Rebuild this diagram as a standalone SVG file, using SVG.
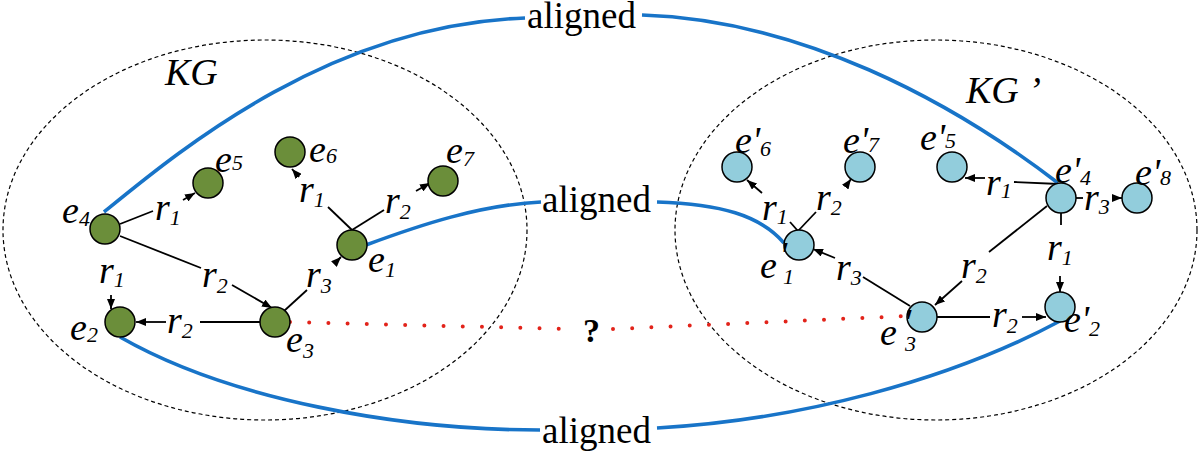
<svg xmlns="http://www.w3.org/2000/svg" width="1200" height="454" viewBox="0 0 1200 454">
<defs>
<style>
.kg{fill:none;stroke:#000;stroke-width:1.2;stroke-dasharray:4 3}
.g{fill:#6b8e3a;stroke:#000;stroke-width:1.5}
.b{fill:#92cddc;stroke:#000;stroke-width:1.5}
.ln{fill:none;stroke:#000;stroke-width:1.8}
.ar{fill:none;stroke:#000;stroke-width:1.8;marker-end:url(#ah)}
.al{fill:none;stroke:#1874c8;stroke-width:3.6}
.dot{fill:none;stroke:#e2231a;stroke-width:4;stroke-linecap:round;stroke-dasharray:0 19.2}
.s{font-size:22px}
</style>
<marker id="ah" viewBox="0 0 10 8" refX="10" refY="4" markerWidth="10" markerHeight="8" markerUnits="userSpaceOnUse" orient="auto">
<path d="M0,0 L10,4 L0,8 z" fill="#000"/>
</marker>
</defs>
<rect width="1200" height="454" fill="#fff"/>

<g id="kg-left">
<ellipse class="kg" cx="265" cy="230" rx="262" ry="190"/>
<text style="font-family:'Liberation Serif',serif;font-style:italic;font-size:38px" x="165" y="85">KG</text>
</g>
<g id="kg-right">
<ellipse class="kg" cx="936" cy="230" rx="261" ry="190"/>
<text style="font-family:'Liberation Serif',serif;font-style:italic;font-size:38px" x="966" y="103">KG ’</text>
</g>

<g id="connectors">
<path class="al" d="M104,212 C180,150 330,25 525,18"/>
<path class="al" d="M642,15 C800,20 950,100 1058,183"/>
<path class="al" d="M366,245 C420,225 480,205 541,202"/>
<path class="al" d="M657,202 C720,204 760,215 784,243"/>
<path class="al" d="M120,337 C230,400 400,430 540,430"/>
<path class="al" d="M657,428 C800,420 950,380 1060,321"/>
<text style="font-family:'Liberation Serif',serif;font-size:37px" x="527" y="28">aligned</text>
<text style="font-family:'Liberation Serif',serif;font-size:37px" x="542" y="212">aligned</text>
<text style="font-family:'Liberation Serif',serif;font-size:37px" x="542" y="443">aligned</text>
<path class="dot" d="M290,322 L566,329"/>
<path class="dot" d="M613,329 L908,316"/>
<text style="font-family:'Liberation Serif',serif;font-size:34px;font-weight:bold" x="583" y="342">?</text>

<path class="ln" d="M120,224 L153,211"/>
<path class="ar" d="M183,200 L195,193"/>
<text style="font-family:'Liberation Serif',serif;font-style:italic;font-size:38px" x="155" y="220">r<tspan class="s" dy="5">1</tspan></text>

<path class="ln" d="M120,236 L201,268"/>
<path class="ar" d="M232,285 L272,308"/>
<text style="font-family:'Liberation Serif',serif;font-style:italic;font-size:38px" x="202" y="287">r<tspan class="s" dy="6">2</tspan></text>

<path class="ln" d="M260,322 L200,322"/>
<path class="ar" d="M166,322 L136,322"/>
<text style="font-family:'Liberation Serif',serif;font-style:italic;font-size:38px" x="167" y="333">r<tspan class="s" dy="5">2</tspan></text>

<path class="ar" d="M111,295 L111,309"/>
<text style="font-family:'Liberation Serif',serif;font-style:italic;font-size:38px" x="99" y="283">r<tspan class="s" dy="4">1</tspan></text>

<path class="ln" d="M352,230 L328,207"/>
<path class="ar" d="M299,177 L292,169"/>
<text style="font-family:'Liberation Serif',serif;font-style:italic;font-size:38px" x="299" y="202">r<tspan class="s" dy="5">1</tspan></text>

<path class="ln" d="M352,230 L384,210"/>
<path class="ar" d="M416,191 L430,183"/>
<text style="font-family:'Liberation Serif',serif;font-style:italic;font-size:38px" x="385" y="213">r<tspan class="s" dy="6">2</tspan></text>

<path class="ln" d="M284,311 L307,290"/>
<path class="ar" d="M335,263 L341,257"/>
<text style="font-family:'Liberation Serif',serif;font-style:italic;font-size:38px" x="306" y="287">r<tspan class="s" dy="6">3</tspan></text>

<path class="ln" d="M798,231 L790,222"/>
<path class="ar" d="M762,193 L747,180"/>
<text style="font-family:'Liberation Serif',serif;font-style:italic;font-size:38px" x="762" y="220">r<tspan class="s" dy="4">1</tspan></text>

<path class="ln" d="M798,231 L816,212"/>
<path class="ar" d="M846,186 L851,179"/>
<text style="font-family:'Liberation Serif',serif;font-style:italic;font-size:38px" x="816" y="210">r<tspan class="s" dy="5">2</tspan></text>

<path class="ln" d="M910,306 L863,277"/>
<path class="ar" d="M835,258 L813,249"/>
<text style="font-family:'Liberation Serif',serif;font-style:italic;font-size:38px" x="836" y="280">r<tspan class="s" dy="5">3</tspan></text>

<path class="ln" d="M1047,206 L989,252"/>
<path class="ar" d="M962,281 L935,305"/>
<text style="font-family:'Liberation Serif',serif;font-style:italic;font-size:38px" x="961" y="278">r<tspan class="s" dy="5">2</tspan></text>

<path class="ln" d="M937,317 L990,317"/>
<path class="ar" d="M1022,317 L1046,317"/>
<text style="font-family:'Liberation Serif',serif;font-style:italic;font-size:38px" x="992" y="327">r<tspan class="s" dy="6">2</tspan></text>

<path class="ln" d="M1061,213 L1061,225"/>
<path class="ar" d="M1060,276 L1060,292"/>
<text style="font-family:'Liberation Serif',serif;font-style:italic;font-size:38px" x="1047" y="260">r<tspan class="s" dy="5">1</tspan></text>

<path class="ln" d="M1059,184 L1014,182"/>
<path class="ar" d="M985,178 L965,178"/>
<text style="font-family:'Liberation Serif',serif;font-style:italic;font-size:38px" x="986" y="195">r<tspan class="s" dy="3">1</tspan></text>

<path class="ln" d="M1076,198 L1083,198"/>
<path class="ar" d="M1112,198 L1122,198"/>
<text style="font-family:'Liberation Serif',serif;font-style:italic;font-size:38px" x="1084" y="210">r<tspan class="s" dy="4">3</tspan></text>
</g>

<g id="e1"><circle class="g" cx="352" cy="245" r="15"/><text style="font-family:'Liberation Serif',serif;font-style:italic;font-size:38px" x="368" y="272">e<tspan class="s" dy="5">1</tspan></text></g>
<g id="e2"><circle class="g" cx="120" cy="322" r="15"/><text style="font-family:'Liberation Serif',serif;font-style:italic;font-size:38px" x="70" y="340">e<tspan class="s" dy="2">2</tspan></text></g>
<g id="e3"><circle class="g" cx="275" cy="322" r="15"/><text style="font-family:'Liberation Serif',serif;font-style:italic;font-size:38px" x="286" y="352">e<tspan class="s" dy="6">3</tspan></text></g>
<g id="e4"><circle class="g" cx="105" cy="229" r="15"/><text style="font-family:'Liberation Serif',serif;font-style:italic;font-size:38px" x="62" y="223">e<tspan class="s" dy="3">4</tspan></text></g>
<g id="e5"><circle class="g" cx="208" cy="183" r="15"/><text style="font-family:'Liberation Serif',serif;font-style:italic;font-size:38px" x="215" y="172">e<tspan class="s" dy="-2">5</tspan></text></g>
<g id="e6"><circle class="g" cx="290" cy="152" r="15"/><text style="font-family:'Liberation Serif',serif;font-style:italic;font-size:38px" x="309" y="162">e<tspan class="s" dy="1">6</tspan></text></g>
<g id="e7"><circle class="g" cx="443" cy="181" r="15"/><text style="font-family:'Liberation Serif',serif;font-style:italic;font-size:38px" x="446" y="163">e<tspan class="s" dy="3">7</tspan></text></g>

<g id="e1p"><circle class="b" cx="799" cy="245" r="15"/><text style="font-family:'Liberation Serif',serif;font-style:italic;font-size:38px" x="760" y="278">e<tspan dx="2" dy="-10">'</tspan><tspan class="s" dx="-4" dy="16">1</tspan></text></g>
<g id="e2p"><circle class="b" cx="1060" cy="307" r="15"/><text style="font-family:'Liberation Serif',serif;font-style:italic;font-size:38px" x="1064" y="332">e<tspan>'</tspan><tspan class="s" dy="4">2</tspan></text></g>
<g id="e3p"><circle class="b" cx="922" cy="317" r="15"/><text style="font-family:'Liberation Serif',serif;font-style:italic;font-size:38px" x="880" y="345">e<tspan dx="6" dy="-10">'</tspan><tspan class="s" dx="-6" dy="16">3</tspan></text></g>
<g id="e4p"><circle class="b" cx="1061" cy="198" r="15"/><text style="font-family:'Liberation Serif',serif;font-style:italic;font-size:38px" x="1055" y="183">e<tspan>'</tspan><tspan class="s" dy="2">4</tspan></text></g>
<g id="e5p"><circle class="b" cx="952" cy="167" r="15"/><text style="font-family:'Liberation Serif',serif;font-style:italic;font-size:38px" x="920" y="150">e<tspan>'</tspan><tspan class="s" dy="-2">5</tspan></text></g>
<g id="e6p"><circle class="b" cx="737" cy="167" r="15"/><text style="font-family:'Liberation Serif',serif;font-style:italic;font-size:38px" x="735" y="153">e<tspan>'</tspan><tspan class="s" dy="3">6</tspan></text></g>
<g id="e7p"><circle class="b" cx="860" cy="167" r="15"/><text style="font-family:'Liberation Serif',serif;font-style:italic;font-size:38px" x="843" y="153">e<tspan>'</tspan><tspan class="s" dy="-1">7</tspan></text></g>
<g id="e8p"><circle class="b" cx="1137" cy="198" r="15"/><text style="font-family:'Liberation Serif',serif;font-style:italic;font-size:38px" x="1135" y="185">e<tspan>'</tspan><tspan class="s" dy="0">8</tspan></text></g>
</svg>
